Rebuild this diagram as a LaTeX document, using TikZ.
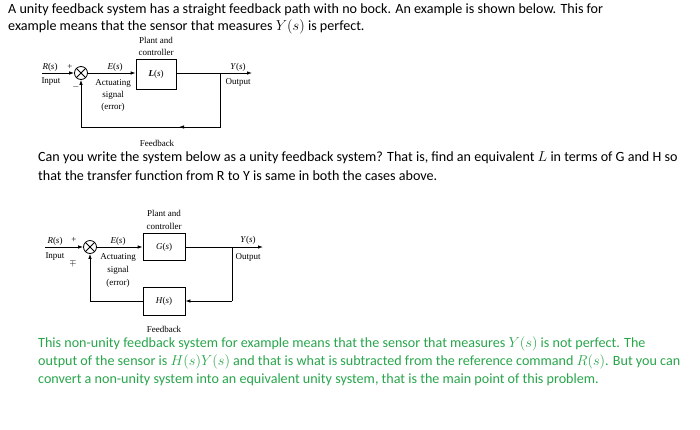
\documentclass[tikz,border=0pt]{standalone}
\usepackage{fontspec}
\setmainfont{Carlito}
\newfontfamily\tms{Liberation Serif}
\usetikzlibrary{arrows.meta}
\definecolor{grn}{RGB}{40,165,75}
\begin{document}
\begin{tikzpicture}[x=1pt,y=-1pt,
  body/.style={anchor=west,font=\fontsize{14.1}{16}\selectfont,inner sep=0},
  lbl/.style={font=\tms\fontsize{9}{10}\selectfont,inner sep=0},
  blk/.style={draw,thick,inner sep=0},
  sig/.style={-{Latex[length=5pt,width=3.5pt]},thick},
  ln/.style={thick}]
\useasboundingbox (0,0) rectangle (700,429);
\node[body] (t1) at (8,10) {A unity feedback system has a straight feedback path with no bock. An example is shown below. This for};
\node[body] (t2) at (8,27) {example means that the sensor that measures $Y(s)$ is perfect.};
% diagram 1
\node[blk,minimum width=40,minimum height=30] (L) at (156,74) {\tms\fontsize{9}{10}\selectfont\textbf{\textit{L}}(\textit{s})};
\node[draw,thick,circle,minimum size=13,inner sep=0] (s1) at (81,73) {};
\draw[thick] (s1.45)--(s1.225) (s1.135)--(s1.315);
\coordinate (in1) at (42,73);
\coordinate (b1) at (220,73);
\coordinate (o1) at (252,73);
\coordinate (c1) at (220,127);
\coordinate (d1) at (81,127);
\draw[sig] (in1)--(s1);
\draw[sig] (s1)--(L.west|-s1);
\draw[ln] (L.east|-b1)--(b1);
\draw[sig] (b1)--(o1);
\draw[ln] (b1)--(c1)--(d1);
\draw[sig] (c1)--(179,127);
\draw[sig] (d1)--(s1);
\node[lbl] (p1) at (156,40) {Plant and};
\node[lbl] (p2) at (156,52) {controller};
\node[lbl] (r1) at (50,67) {\textit{R}(\textit{s})};
\node[lbl] (i1) at (51,82) {Input};
\node[lbl] (pl1) at (70,67) {+};
\node[lbl] (mi1) at (76,87) {$-$};
\node[lbl] (e1) at (115,67) {\textit{E}(\textit{s})};
\node[lbl] (a1) at (113,83) {Actuating};
\node[lbl] (a2) at (113,95) {signal};
\node[lbl] (a3) at (113,107) {(error)};
\node[lbl] (y1) at (238,67) {\textit{Y}(\textit{s})};
\node[lbl] (o1l) at (238,82) {Output};
\node[lbl] (f1) at (157,143) {Feedback};
\node[body] (t3) at (38,158) {Can you write the system below as a unity feedback system? That is, find an equivalent $L$ in terms of G and H so};
\node[body] (t4) at (38,176) {that the transfer function from R to Y is same in both the cases above.};
% diagram 2
\node[blk,minimum width=42,minimum height=27] (G) at (164,247) {\tms\fontsize{9}{10}\selectfont\textit{G}(\textit{s})};
\node[blk,minimum width=42,minimum height=28] (H) at (164,301) {\tms\fontsize{9}{10}\selectfont\textit{H}(\textit{s})};
\node[draw,thick,circle,minimum size=13,inner sep=0] (s2) at (90,247) {};
\draw[thick] (s2.45)--(s2.225) (s2.135)--(s2.315);
\coordinate (in2) at (45,247);
\coordinate (b2) at (232,247);
\coordinate (o2) at (263,247);
\coordinate (c2) at (232,301);
\coordinate (d2) at (90,301);
\draw[sig] (in2)--(s2);
\draw[sig] (s2)--(G);
\draw[ln] (G)--(b2);
\draw[sig] (b2)--(o2);
\draw[ln] (b2)--(c2);
\draw[sig] (c2)--(H);
\draw[ln] (H)--(d2);
\draw[sig] (d2)--(s2);
\node[lbl] (p3) at (164,213) {Plant and};
\node[lbl] (p4) at (164,226) {controller};
\node[lbl] (r2) at (55,241) {\textit{R}(\textit{s})};
\node[lbl] (i2) at (55,257) {Input};
\node[lbl] (pl2) at (74,240) {+};
\node[lbl] (mi2) at (73,263) {$\mp$};
\node[lbl] (e2) at (118,241) {\textit{E}(\textit{s})};
\node[lbl] (a4) at (118,257) {Actuating};
\node[lbl] (a5) at (118,270) {signal};
\node[lbl] (a6) at (118,283) {(error)};
\node[lbl] (y2) at (248,240) {\textit{Y}(\textit{s})};
\node[lbl] (o2l) at (248,257) {Output};
\node[lbl] (f2) at (164,329) {Feedback};
\node[body,text=grn] (g1) at (38,344) {This non-unity feedback system for example means that the sensor that measures $Y(s)$ is not perfect. The};
\node[body,text=grn] (g2) at (38,362) {output of the sensor is $H(s)Y(s)$ and that is what is subtracted from the reference command $R(s)$. But you can};
\node[body,text=grn] (g3) at (38,380) {convert a non-unity system into an equivalent unity system, that is the main point of this problem.};
\end{tikzpicture}
\end{document}
